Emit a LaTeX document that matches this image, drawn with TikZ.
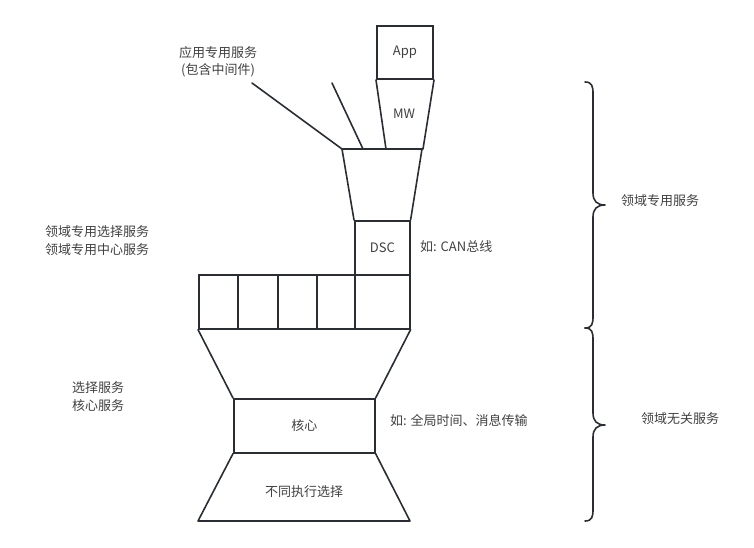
\documentclass[tikz,border=0pt]{standalone}
\usepackage{fontspec}
\setmainfont{Noto Sans CJK SC}
\usetikzlibrary{positioning}
\definecolor{strokegray}{RGB}{42,46,52}
\definecolor{textgray}{RGB}{64,64,64}

\begin{document}
\begin{tikzpicture}[x=1pt,y=-1pt,
  box/.style={draw=strokegray,line width=1.6pt,inner sep=0pt,anchor=north west,
    text=textgray,font=\fontsize{13}{17.5}\selectfont},
  lbl/.style={text=textgray,font=\fontsize{13}{17.5}\selectfont,inner sep=0pt},
  edge/.style={strokegray,line width=1.6pt,line join=round,line cap=round}]

%% ── canvas ───────────────────────────────────────────────────────────────────
\useasboundingbox (0,0) rectangle (754,547);

%% ════════════════════════════════════════════════════════════════════════════
%%  UPPER STACK — App / MW / funnel / DSC
%% ════════════════════════════════════════════════════════════════════════════
\node[box,line width=2pt,minimum width=56,minimum height=53] (app) at (376,25) {App};

%% MW trapezoid under the App box
\draw[edge] (app.south west) -- (386,149) -- (423,149) -- (app.south east);
\node[lbl] (mw) at (404,114) {MW};

\node[box,minimum width=55,minimum height=54] (dsc) at (354,220) {DSC};

%% funnel between MW and DSC
\coordinate (ftl) at (342,149);
\coordinate (ftm) at (363,149);
\draw[edge] (dsc.north west) -- (ftl) -- (422,149) -- (dsc.north east);

%% application services label with its two pointer lines
\node[lbl,align=center] (appsvc) at (218,62) {应用专用服务\\(包含中间件)};
\coordinate (p1) at (252,83);
\coordinate (p2) at (332,83);
\draw[edge] (p1) -- (ftl);
\draw[edge] (p2) -- (ftm);

\node[lbl,anchor=west] (canbus) at (420,247) {如: CAN总线};

%% ════════════════════════════════════════════════════════════════════════════
%%  MIDDLE ROW — five service cells
%% ════════════════════════════════════════════════════════════════════════════
\foreach \xa/\xb [count=\i] in {198/237,237/277,277/316,316/354,354/409}
  \node[box,minimum width={\xb-\xa},minimum height=54] (c\i) at (\xa,274) {};

\node[lbl,align=left,anchor=west] (domsvc) at (45,240.5)
  {领域专用选择服务\\领域专用中心服务};

%% ════════════════════════════════════════════════════════════════════════════
%%  LOWER STACK — core and execution choices
%% ════════════════════════════════════════════════════════════════════════════
\node[box,minimum width=141,minimum height=54] (core) at (233,398) {核心};

%% waist between the cells and the core
\draw[edge] (c1.south west) -- (core.north west);
\draw[edge] (c5.south east) -- (core.north east);

%% bottom trapezoid
\draw[edge] (core.south west) -- (198,521) -- (410,521) -- (core.south east);
\node[lbl] (impl) at (304,492) {不同执行选择};

\node[lbl,align=center] (coresvc) at (98,396.5) {选择服务\\核心服务};
\node[lbl,anchor=west] (coreeg) at (390,420) {如: 全局时间、消息传输};

%% ════════════════════════════════════════════════════════════════════════════
%%  RIGHT BRACES
%% ════════════════════════════════════════════════════════════════════════════
\draw[edge] (585,82) .. controls (592,82) and (593,86) .. (593,94) -- (593,193)
  .. controls (593,201) and (597,205) .. (605,205)
  .. controls (597,205) and (593,209) .. (593,217) -- (593,316)
  .. controls (593,324) and (592,328) .. (585,328);
\node[lbl,anchor=west] (domspec) at (621,201) {领域专用服务};

\draw[edge] (585,328) .. controls (592,328) and (593,332) .. (593,340) -- (593,413)
  .. controls (593,421) and (597,425) .. (605,425)
  .. controls (597,425) and (593,429) .. (593,437) -- (593,509)
  .. controls (593,517) and (592,521) .. (585,521);
\node[lbl,anchor=west] (domfree) at (641,419) {领域无关服务};

\end{tikzpicture}
\end{document}
